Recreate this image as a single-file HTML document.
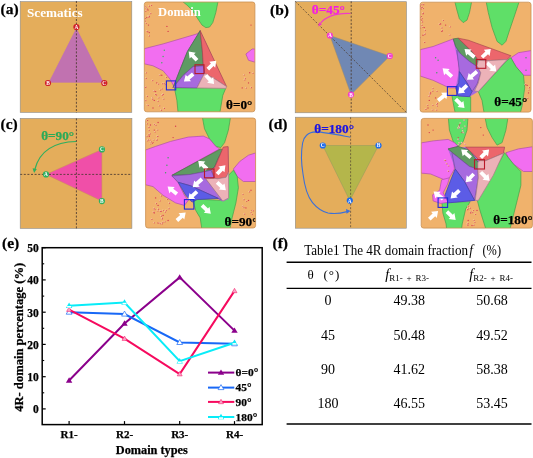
<!DOCTYPE html>
<html><head><meta charset="utf-8"><title>Figure</title>
<style>html,body{margin:0;padding:0;background:#fff;}svg{display:block;font-family:"Liberation Serif",serif;}.b{font-weight:bold}.k{stroke:#000;stroke-width:0.25px}.w{fill:#fff}</style></head><body>
<svg width="533" height="458" viewBox="0 0 533 458">
<defs><filter id="soft" x="-5%" y="-5%" width="110%" height="110%"><feGaussianBlur stdDeviation="0.4"/></filter>
<clipPath id="cpa"><rect x="144.3" y="2.0" width="110.6" height="109.8" rx="2.5"/></clipPath>
<clipPath id="cpb"><rect x="420.2" y="2.2" width="110.8" height="109.9" rx="2.5"/></clipPath>
<clipPath id="cpc"><rect x="145.6" y="118.0" width="110.0" height="110.0" rx="2.5"/></clipPath>
<clipPath id="cpd"><rect x="421.2" y="118.4" width="111.2" height="109.7" rx="2.5"/></clipPath>
</defs>
<rect width="533" height="458" fill="#fff"/>
<rect x="20.2" y="1.6" width="111.6" height="110.8" fill="#E4AD5B" stroke="#8c8c8c" stroke-width="0.6"/>
<rect x="295.2" y="1.7" width="111.3" height="111.1" fill="#E4AD5B" stroke="#8c8c8c" stroke-width="0.6"/>
<rect x="20.2" y="118.4" width="111.7" height="110.0" fill="#E4AD5B" stroke="#8c8c8c" stroke-width="0.6"/>
<rect x="295.3" y="117.2" width="111.0" height="111.0" fill="#E4AD5B" stroke="#8c8c8c" stroke-width="0.6"/>
<polygon points="76.4,27 48,83 104.3,83" fill="#C172B0" stroke="#E8B84A" stroke-width="0.6"/>
<line x1="76.4" y1="1" x2="76.4" y2="113" stroke="#4a3a30" stroke-opacity="0.85" stroke-width="1" stroke-dasharray="2,1.6" fill="none"/>
<circle cx="76.4" cy="27.0" r="3.1" fill="#D0202A"/>
<text x="76.4" y="28.9" font-size="5.4" class="b w" text-anchor="middle">A</text>
<circle cx="48.0" cy="83.0" r="3.1" fill="#D0202A"/>
<text x="48.0" y="84.9" font-size="5.4" class="b w" text-anchor="middle">B</text>
<circle cx="104.3" cy="83.0" r="3.1" fill="#D0202A"/>
<text x="104.3" y="84.9" font-size="5.4" class="b w" text-anchor="middle">C</text>
<text x="27" y="17" font-size="13.2" class="b w">Scematics</text>
<polygon points="329.9,35.5 389.8,56 351,94.6" fill="#7088B4" stroke="#9a8a6e" stroke-width="0.5"/>
<line x1="351.2" y1="1.3" x2="351.2" y2="113" stroke="#4a3a30" stroke-opacity="0.85" stroke-width="1" stroke-dasharray="2,1.6" fill="none"/>
<line x1="295.2" y1="1.3" x2="406.2" y2="112.3" stroke="#4a3a30" stroke-opacity="0.85" stroke-width="0.85" stroke-dasharray="2,1.6" fill="none"/>
<path d="M350.4,13.5 C336,13 325,17 319.5,24.5" fill="none" stroke="#F03CC8" stroke-width="1.2"/>
<polygon points="318.2,26.5 319,22.3 322,24.6" fill="#F03CC0"/>
<circle cx="329.9" cy="35.5" r="3.1" fill="#F23CD0"/>
<text x="329.9" y="37.4" font-size="5.4" class="b w" text-anchor="middle">A</text>
<circle cx="389.8" cy="56.0" r="3.1" fill="#F23CD0"/>
<text x="389.8" y="57.9" font-size="5.4" class="b w" text-anchor="middle">C</text>
<circle cx="351.0" cy="94.6" r="3.1" fill="#F23CD0"/>
<text x="351.0" y="96.5" font-size="5.4" class="b w" text-anchor="middle">B</text>
<text x="311.8" y="13.8" font-size="13.3" class="b" fill="#F41CE4" stroke="#F41CE4" stroke-width="0.25">θ=45°</text>
<polygon points="46,174.4 101.9,149.4 101.9,201.1" fill="#F04FA8" stroke="#c98a5e" stroke-width="0.5"/>
<line x1="76.4" y1="118.4" x2="76.4" y2="228.4" stroke="#4a3a30" stroke-opacity="0.85" stroke-width="1" stroke-dasharray="2,1.6" fill="none"/>
<line x1="20.2" y1="174.4" x2="131.9" y2="174.4" stroke="#4a3a30" stroke-opacity="0.85" stroke-width="1" stroke-dasharray="2,1.6" fill="none"/>
<path d="M76.2,141.5 C55,142 40,150 35,169" fill="none" stroke="#2FAE5E" stroke-width="1.2"/>
<polygon points="34.1,173 32.6,168.2 36.8,169" fill="#2FAE5E"/>
<circle cx="46.0" cy="174.4" r="3.1" fill="#2FB060"/>
<text x="46.0" y="176.3" font-size="5.4" class="b w" text-anchor="middle">A</text>
<circle cx="101.9" cy="149.4" r="3.1" fill="#2FB060"/>
<text x="101.9" y="151.3" font-size="5.4" class="b w" text-anchor="middle">C</text>
<circle cx="101.9" cy="201.1" r="3.1" fill="#2FB060"/>
<text x="101.9" y="203.0" font-size="5.4" class="b w" text-anchor="middle">B</text>
<text x="41.2" y="139.7" font-size="13.2" class="b" fill="#2BAA58" stroke="#2BAA58" stroke-width="0.25">θ=90°</text>
<polygon points="322.8,145.5 378.5,145.5 349.8,200.6" fill="#B4B64B" stroke="#8f9a5e" stroke-width="0.5"/>
<line x1="350.6" y1="117.2" x2="350.6" y2="228.2" stroke="#4a3a30" stroke-opacity="0.85" stroke-width="0.75" stroke-dasharray="2,1.6" fill="none"/>
<path d="M350.4,137.3 C340,135.3 325,132 315.7,131.9 C308,132 303.5,137 302.6,143 C301,152 301.5,165 303,174 C304.5,186 307,196 312.5,202.6 C317,208 322,211.5 328,213 C335,214.2 342,213 347,211.6" fill="none" stroke="#3C70D8" stroke-width="1.1"/>
<polygon points="350.6,211 346,208.9 346.6,213.8" fill="#3C70D8"/>
<circle cx="322.8" cy="145.5" r="3.1" fill="#1E6CEC"/>
<text x="322.8" y="147.4" font-size="5.4" class="b w" text-anchor="middle">C</text>
<circle cx="378.5" cy="145.5" r="3.1" fill="#1E6CEC"/>
<text x="378.5" y="147.4" font-size="5.4" class="b w" text-anchor="middle">B</text>
<circle cx="349.8" cy="200.6" r="3.1" fill="#1E6CEC"/>
<text x="349.8" y="202.5" font-size="5.4" class="b w" text-anchor="middle">A</text>
<text x="314.2" y="132.7" font-size="13.3" class="b" fill="#1C14E4" stroke="#1C14E4" stroke-width="0.25">θ=180°</text>
<text x="0.5" y="14.4" font-size="15.5" class="b k">(a)</text>
<text x="270" y="15" font-size="15.5" class="b k">(b)</text>
<text x="0.5" y="129.2" font-size="15.5" class="b k">(c)</text>
<text x="268.5" y="129.3" font-size="15.5" class="b k">(d)</text>
<text x="2" y="248.2" font-size="15.5" class="b k">(e)</text>
<text x="272.5" y="248.2" font-size="15.5" class="b k">(f)</text>
<g clip-path="url(#cpa)">
<rect x="143.3" y="1.0" width="112.6" height="111.8" fill="#F0B26C"/>
<g filter="url(#soft)">
<polygon points="180.7,0.0 218.3,0.0 215.8,12.6 212.8,22.6 209.5,27.1 205.8,27.6 202.0,25.1 197.0,17.6 192.0,10.0 186.9,5.0" fill="#5EDF68" stroke="#43a04a" stroke-width="0.7" stroke-linejoin="round"/>
<polygon points="174.4,87.9 225.9,87.9 222.8,95.4 219.6,114.2 178.2,114.2 176.9,100.4" fill="#5EDF68" stroke="#43a04a" stroke-width="0.7" stroke-linejoin="round"/>
<polygon points="143.0,49.0 163.1,43.9 197.0,33.9 200.2,31.4 187.4,51.5 180.4,68.8 173.6,85.9 170.1,79.1 163.1,70.8 153.0,65.8 143.0,63.5" fill="#F26EF0" stroke="#ae4fac" stroke-width="0.7" stroke-linejoin="round"/>
<polygon points="245.9,54.0 252.2,49.0 257.2,49.0 257.2,62.8 248.5,60.3" fill="#F26EF0" stroke="#ae4fac" stroke-width="0.7" stroke-linejoin="round"/>
<polygon points="200.2,30.6 187.4,51.5 180.4,68.8 173.1,87.4 226.6,86.9" fill="#A76ADF"/>
<polygon points="200.2,30.6 187.4,51.5 180.4,68.8 173.1,87.4 183.2,75.3 193.2,66.5 203.3,65.8 202.3,50.2" fill="#5E9A64" stroke="#436e48" stroke-width="0.7" stroke-linejoin="round"/>
<polygon points="200.2,30.6 226.6,86.6 214.6,78.8 204.5,73.3 203.3,65.8 202.3,50.2" fill="#EC666C" stroke="#a9494d" stroke-width="0.7" stroke-linejoin="round"/>
<polygon points="173.1,87.4 183.2,75.3 193.2,66.5 203.3,65.8 204.5,73.3 200.8,80.3 197.0,87.9" fill="#A76ADF" stroke="#784ca0" stroke-width="0.7" stroke-linejoin="round"/>
<polygon points="197.0,87.9 200.8,80.3 204.5,73.3 214.6,78.8 226.6,86.6 225.9,88.4" fill="#ECB2B8" stroke="#a98084" stroke-width="0.7" stroke-linejoin="round"/>
<circle cx="148.0" cy="10.0" r="0.7" fill="#D84050"/>
<circle cx="146.8" cy="17.6" r="0.7" fill="#D84050"/>
<circle cx="148.5" cy="25.1" r="0.7" fill="#D84050"/>
<circle cx="166.9" cy="26.4" r="0.7" fill="#D84050"/>
<circle cx="168.1" cy="31.4" r="0.7" fill="#D84050"/>
<circle cx="149.3" cy="32.6" r="0.7" fill="#D84050"/>
<circle cx="156.8" cy="82.9" r="0.7" fill="#D84050"/>
<circle cx="155.6" cy="91.6" r="0.7" fill="#D84050"/>
<circle cx="154.3" cy="100.4" r="0.7" fill="#D84050"/>
<circle cx="153.0" cy="108.0" r="0.7" fill="#D84050"/>
<circle cx="161.8" cy="75.3" r="0.7" fill="#D84050"/>
<circle cx="248.5" cy="82.9" r="0.7" fill="#D84050"/>
<circle cx="242.2" cy="87.9" r="0.7" fill="#D84050"/>
<circle cx="249.7" cy="72.8" r="0.7" fill="#D84050"/>
<circle cx="251.0" cy="25.1" r="0.7" fill="#D84050"/>
<circle cx="164.3" cy="50.2" r="0.7" fill="#40B060"/>
<circle cx="163.1" cy="56.5" r="0.7" fill="#40B060"/>
<circle cx="161.8" cy="62.8" r="0.7" fill="#40B060"/>
<circle cx="146.7" cy="8.5" r="0.7" fill="#F8D8A4"/>
<circle cx="147.2" cy="8.9" r="0.6" fill="#D63A55" fill-opacity="0.85"/>
<circle cx="148.9" cy="5.8" r="0.7" fill="#F8D8A4"/>
<circle cx="149.4" cy="6.2" r="0.6" fill="#D63A55" fill-opacity="0.85"/>
<circle cx="148.1" cy="15.8" r="0.7" fill="#F8D8A4"/>
<circle cx="148.6" cy="16.2" r="0.6" fill="#D63A55" fill-opacity="0.85"/>
<circle cx="144.9" cy="20.6" r="0.7" fill="#F8D8A4"/>
<circle cx="145.4" cy="21.0" r="0.6" fill="#D63A55" fill-opacity="0.85"/>
<circle cx="144.8" cy="18.1" r="0.7" fill="#F8D8A4"/>
<circle cx="145.3" cy="18.5" r="0.6" fill="#D63A55" fill-opacity="0.85"/>
<circle cx="145.0" cy="6.4" r="0.7" fill="#F8D8A4"/>
<circle cx="145.5" cy="6.8" r="0.6" fill="#D63A55" fill-opacity="0.85"/>
<circle cx="147.4" cy="31.4" r="0.7" fill="#F8D8A4"/>
<circle cx="147.9" cy="31.8" r="0.6" fill="#D63A55" fill-opacity="0.85"/>
<circle cx="145.3" cy="10.9" r="0.7" fill="#F8D8A4"/>
<circle cx="145.8" cy="11.3" r="0.6" fill="#D63A55" fill-opacity="0.85"/>
<circle cx="148.8" cy="35.5" r="0.7" fill="#F8D8A4"/>
<circle cx="149.3" cy="35.9" r="0.6" fill="#D63A55" fill-opacity="0.85"/>
<circle cx="148.4" cy="16.8" r="0.7" fill="#F8D8A4"/>
<circle cx="148.9" cy="17.2" r="0.6" fill="#D63A55" fill-opacity="0.85"/>
<circle cx="151.1" cy="4.9" r="0.7" fill="#F8D8A4"/>
<circle cx="151.6" cy="5.3" r="0.6" fill="#D63A55" fill-opacity="0.85"/>
<circle cx="150.3" cy="13.2" r="0.7" fill="#F8D8A4"/>
<circle cx="150.8" cy="13.6" r="0.6" fill="#D63A55" fill-opacity="0.85"/>
<circle cx="145.5" cy="7.4" r="0.7" fill="#F8D8A4"/>
<circle cx="146.0" cy="7.8" r="0.6" fill="#D63A55" fill-opacity="0.85"/>
<circle cx="146.6" cy="31.0" r="0.7" fill="#F8D8A4"/>
<circle cx="147.1" cy="31.4" r="0.6" fill="#D63A55" fill-opacity="0.85"/>
<circle cx="145.7" cy="23.1" r="0.7" fill="#F8D8A4"/>
<circle cx="146.2" cy="23.5" r="0.6" fill="#D63A55" fill-opacity="0.85"/>
<circle cx="148.8" cy="16.0" r="0.7" fill="#F8D8A4"/>
<circle cx="149.3" cy="16.4" r="0.6" fill="#D63A55" fill-opacity="0.85"/>
<circle cx="159.5" cy="74.8" r="0.7" fill="#F8D8A4"/>
<circle cx="160.0" cy="75.2" r="0.6" fill="#D63A55" fill-opacity="0.85"/>
<circle cx="152.2" cy="80.2" r="0.7" fill="#F8D8A4"/>
<circle cx="152.7" cy="80.6" r="0.6" fill="#D63A55" fill-opacity="0.85"/>
<circle cx="161.5" cy="88.5" r="0.7" fill="#F8D8A4"/>
<circle cx="162.0" cy="88.9" r="0.6" fill="#D63A55" fill-opacity="0.85"/>
<circle cx="156.0" cy="94.5" r="0.7" fill="#F8D8A4"/>
<circle cx="156.5" cy="94.9" r="0.6" fill="#D63A55" fill-opacity="0.85"/>
<circle cx="158.1" cy="83.7" r="0.7" fill="#F8D8A4"/>
<circle cx="158.6" cy="84.1" r="0.6" fill="#D63A55" fill-opacity="0.85"/>
<circle cx="163.3" cy="98.7" r="0.7" fill="#F8D8A4"/>
<circle cx="163.8" cy="99.1" r="0.6" fill="#D63A55" fill-opacity="0.85"/>
<circle cx="155.0" cy="94.1" r="0.7" fill="#F8D8A4"/>
<circle cx="155.5" cy="94.5" r="0.6" fill="#D63A55" fill-opacity="0.85"/>
<circle cx="159.2" cy="105.4" r="0.7" fill="#F8D8A4"/>
<circle cx="159.7" cy="105.8" r="0.6" fill="#D63A55" fill-opacity="0.85"/>
<circle cx="162.3" cy="83.3" r="0.7" fill="#F8D8A4"/>
<circle cx="162.8" cy="83.7" r="0.6" fill="#D63A55" fill-opacity="0.85"/>
<circle cx="166.1" cy="76.9" r="0.7" fill="#F8D8A4"/>
<circle cx="166.6" cy="77.3" r="0.6" fill="#D63A55" fill-opacity="0.85"/>
<circle cx="157.6" cy="100.9" r="0.7" fill="#F8D8A4"/>
<circle cx="158.1" cy="101.3" r="0.6" fill="#D63A55" fill-opacity="0.85"/>
<circle cx="153.6" cy="90.8" r="0.7" fill="#F8D8A4"/>
<circle cx="154.1" cy="91.2" r="0.6" fill="#D63A55" fill-opacity="0.85"/>
<circle cx="151.9" cy="97.6" r="0.7" fill="#F8D8A4"/>
<circle cx="152.4" cy="98.0" r="0.6" fill="#D63A55" fill-opacity="0.85"/>
<circle cx="162.8" cy="94.0" r="0.7" fill="#F8D8A4"/>
<circle cx="163.3" cy="94.4" r="0.6" fill="#D63A55" fill-opacity="0.85"/>
<circle cx="164.5" cy="84.2" r="0.7" fill="#F8D8A4"/>
<circle cx="165.0" cy="84.6" r="0.6" fill="#D63A55" fill-opacity="0.85"/>
<circle cx="161.8" cy="94.8" r="0.7" fill="#F8D8A4"/>
<circle cx="162.3" cy="95.2" r="0.6" fill="#D63A55" fill-opacity="0.85"/>
<circle cx="160.0" cy="89.6" r="0.7" fill="#F8D8A4"/>
<circle cx="160.5" cy="90.0" r="0.6" fill="#D63A55" fill-opacity="0.85"/>
<circle cx="163.9" cy="108.0" r="0.7" fill="#F8D8A4"/>
<circle cx="164.4" cy="108.4" r="0.6" fill="#D63A55" fill-opacity="0.85"/>
<circle cx="158.4" cy="97.4" r="0.7" fill="#F8D8A4"/>
<circle cx="158.9" cy="97.8" r="0.6" fill="#D63A55" fill-opacity="0.85"/>
<circle cx="152.2" cy="98.8" r="0.7" fill="#F8D8A4"/>
<circle cx="152.7" cy="99.2" r="0.6" fill="#D63A55" fill-opacity="0.85"/>
<circle cx="161.0" cy="109.8" r="0.7" fill="#F8D8A4"/>
<circle cx="161.5" cy="110.2" r="0.6" fill="#D63A55" fill-opacity="0.85"/>
<circle cx="163.7" cy="83.1" r="0.7" fill="#F8D8A4"/>
<circle cx="164.2" cy="83.5" r="0.6" fill="#D63A55" fill-opacity="0.85"/>
<circle cx="146.9" cy="95.9" r="0.7" fill="#F8D8A4"/>
<circle cx="147.4" cy="96.3" r="0.6" fill="#D63A55" fill-opacity="0.85"/>
<circle cx="145.1" cy="87.1" r="0.7" fill="#F8D8A4"/>
<circle cx="145.6" cy="87.5" r="0.6" fill="#D63A55" fill-opacity="0.85"/>
<circle cx="145.9" cy="72.4" r="0.7" fill="#F8D8A4"/>
<circle cx="146.4" cy="72.8" r="0.6" fill="#D63A55" fill-opacity="0.85"/>
<circle cx="145.3" cy="100.2" r="0.7" fill="#F8D8A4"/>
<circle cx="145.8" cy="100.6" r="0.6" fill="#D63A55" fill-opacity="0.85"/>
<circle cx="145.7" cy="78.0" r="0.7" fill="#F8D8A4"/>
<circle cx="146.2" cy="78.4" r="0.6" fill="#D63A55" fill-opacity="0.85"/>
<circle cx="147.0" cy="104.6" r="0.7" fill="#F8D8A4"/>
<circle cx="147.5" cy="105.0" r="0.6" fill="#D63A55" fill-opacity="0.85"/>
<circle cx="145.4" cy="86.6" r="0.7" fill="#F8D8A4"/>
<circle cx="145.9" cy="87.0" r="0.6" fill="#D63A55" fill-opacity="0.85"/>
<circle cx="147.8" cy="105.1" r="0.7" fill="#F8D8A4"/>
<circle cx="148.3" cy="105.5" r="0.6" fill="#D63A55" fill-opacity="0.85"/>
<circle cx="250.9" cy="87.3" r="0.7" fill="#F8D8A4"/>
<circle cx="251.4" cy="87.7" r="0.6" fill="#D63A55" fill-opacity="0.85"/>
<circle cx="244.8" cy="78.2" r="0.7" fill="#F8D8A4"/>
<circle cx="245.3" cy="78.6" r="0.6" fill="#D63A55" fill-opacity="0.85"/>
<circle cx="245.7" cy="87.7" r="0.7" fill="#F8D8A4"/>
<circle cx="246.2" cy="88.1" r="0.6" fill="#D63A55" fill-opacity="0.85"/>
<circle cx="252.5" cy="72.9" r="0.7" fill="#F8D8A4"/>
<circle cx="253.0" cy="73.3" r="0.6" fill="#D63A55" fill-opacity="0.85"/>
<circle cx="243.7" cy="74.6" r="0.7" fill="#F8D8A4"/>
<circle cx="244.2" cy="75.0" r="0.6" fill="#D63A55" fill-opacity="0.85"/>
<circle cx="244.3" cy="79.6" r="0.7" fill="#F8D8A4"/>
<circle cx="244.8" cy="80.0" r="0.6" fill="#D63A55" fill-opacity="0.85"/>
</g>
<polygon points="198.4,59.0 194.0,54.3 195.7,52.7 188.7,51.5 189.6,58.5 191.2,56.9 195.6,61.6" fill="#fff"/>
<polygon points="209.1,70.4 213.6,66.1 215.2,67.7 216.3,60.8 209.3,61.7 210.9,63.4 206.5,67.7" fill="#fff"/>
<polygon points="192.0,72.6 187.2,76.5 185.7,74.8 183.9,81.6 191.0,81.3 189.6,79.5 194.4,75.5" fill="#fff"/>
<polygon points="204.4,76.6 208.8,81.3 207.1,82.8 214.1,84.1 213.2,77.1 211.5,78.7 207.2,74.0" fill="#fff"/>
<rect x="195.0" y="64.8" width="9.0" height="8.8" fill="none" stroke="#B81828" stroke-width="1.1"/>
<rect x="166.4" y="80.9" width="9.3" height="9.0" fill="none" stroke="#2028D8" stroke-width="1.1"/>
<text x="158.1" y="15.6" font-size="12.6" class="b w">Domain</text>
<text x="226.1" y="108.5" font-size="13.2" class="b k">θ=0°</text>
</g>
<rect x="144.3" y="2.0" width="110.6" height="109.8" rx="2.5" fill="none" stroke="#c98f50" stroke-width="0.8"/>
<g clip-path="url(#cpb)">
<rect x="419.2" y="1.2" width="112.8" height="111.9" fill="#F0B26C"/>
<g filter="url(#soft)">
<polygon points="454.4,0.0 472.0,0.0 469.5,12.6 467.0,20.1 463.2,22.6 459.4,18.8 456.9,10.0" fill="#5EDF68" stroke="#43a04a" stroke-width="0.7" stroke-linejoin="round"/>
<polygon points="485.8,0.0 519.7,0.0 514.7,15.1 509.6,30.1 505.9,41.4 502.1,45.2 497.1,41.4 492.1,27.6 488.3,12.6" fill="#5EDF68" stroke="#43a04a" stroke-width="0.7" stroke-linejoin="round"/>
<polygon points="418.0,50.2 433.1,46.5 453.2,38.9 456.9,50.2 459.4,67.8 458.2,82.9 455.7,87.9 449.4,87.9 433.1,80.3 418.0,75.3" fill="#F26EF0" stroke="#ae4fac" stroke-width="0.7" stroke-linejoin="round"/>
<polygon points="510.9,57.8 518.4,52.7 533.5,50.2 533.5,75.3 523.5,75.3 515.9,66.5" fill="#F26EF0" stroke="#ae4fac" stroke-width="0.7" stroke-linejoin="round"/>
<polygon points="507.1,60.3 510.9,57.8 515.9,66.5 523.5,75.3 524.7,87.9 522.2,105.5 519.7,115.5 484.5,115.5 482.0,100.4 478.3,91.6" fill="#5EDF68" stroke="#43a04a" stroke-width="0.7" stroke-linejoin="round"/>
<polygon points="451.9,95.4 470.7,96.7 470.7,115.5 455.7,115.5 453.2,102.9" fill="#5EDF68" stroke="#43a04a" stroke-width="0.7" stroke-linejoin="round"/>
<polygon points="453.2,38.9 510.9,55.7 478.3,91.6 469.5,96.7 458.2,95.9 455.7,87.9 459.4,67.8" fill="#A76ADF"/>
<polygon points="453.2,38.9 458.2,38.2 472.0,51.5 478.3,60.3 477.0,66.5 469.5,61.5 460.7,54.0 455.7,46.5" fill="#5E9A64" stroke="#436e48" stroke-width="0.7" stroke-linejoin="round"/>
<polygon points="458.2,38.2 468.2,40.2 510.9,55.7 507.1,59.5 485.8,60.8 478.3,60.3 472.0,51.5" fill="#EC666C" stroke="#a9494d" stroke-width="0.7" stroke-linejoin="round"/>
<polygon points="456.9,50.2 460.7,54.0 469.5,61.5 477.0,66.5 480.8,72.8 477.0,84.1 472.0,91.6 467.0,82.9 459.4,71.6" fill="#A76ADF" stroke="#784ca0" stroke-width="0.7" stroke-linejoin="round"/>
<polygon points="477.0,65.8 478.3,60.3 485.8,60.8 507.1,59.5 478.3,91.6 474.5,90.9 478.3,82.9 480.8,72.8" fill="#ECB2B8" stroke="#a98084" stroke-width="0.7" stroke-linejoin="round"/>
<polygon points="459.4,71.6 467.0,82.9 472.0,91.6 469.5,96.7 458.2,95.9 455.7,87.9 458.7,82.9" fill="#5C5CE6" stroke="#4242a5" stroke-width="0.7" stroke-linejoin="round"/>
<circle cx="421.8" cy="7.5" r="0.7" fill="#D84050"/>
<circle cx="423.0" cy="13.8" r="0.7" fill="#D84050"/>
<circle cx="421.8" cy="20.1" r="0.7" fill="#D84050"/>
<circle cx="424.3" cy="27.6" r="0.7" fill="#D84050"/>
<circle cx="423.0" cy="35.2" r="0.7" fill="#D84050"/>
<circle cx="440.6" cy="23.9" r="0.7" fill="#D84050"/>
<circle cx="445.6" cy="25.1" r="0.7" fill="#D84050"/>
<circle cx="441.9" cy="31.4" r="0.7" fill="#D84050"/>
<circle cx="430.6" cy="92.9" r="0.7" fill="#D84050"/>
<circle cx="429.3" cy="100.4" r="0.7" fill="#D84050"/>
<circle cx="428.0" cy="108.0" r="0.7" fill="#D84050"/>
<circle cx="435.6" cy="97.9" r="0.7" fill="#D84050"/>
<circle cx="527.2" cy="85.4" r="0.7" fill="#D84050"/>
<circle cx="528.5" cy="92.9" r="0.7" fill="#D84050"/>
<circle cx="435.6" cy="57.8" r="0.7" fill="#40A060"/>
<circle cx="438.1" cy="60.3" r="0.7" fill="#40A060"/>
<circle cx="436.8" cy="72.8" r="0.7" fill="#40A060"/>
<circle cx="526.0" cy="57.8" r="0.7" fill="#40A060"/>
<circle cx="526.0" cy="70.3" r="0.7" fill="#40A060"/>
<circle cx="422.8" cy="12.7" r="0.7" fill="#F8D8A4"/>
<circle cx="423.3" cy="13.1" r="0.6" fill="#D63A55" fill-opacity="0.85"/>
<circle cx="419.5" cy="18.9" r="0.7" fill="#F8D8A4"/>
<circle cx="420.0" cy="19.3" r="0.6" fill="#D63A55" fill-opacity="0.85"/>
<circle cx="421.5" cy="24.9" r="0.7" fill="#F8D8A4"/>
<circle cx="422.0" cy="25.3" r="0.6" fill="#D63A55" fill-opacity="0.85"/>
<circle cx="424.8" cy="29.9" r="0.7" fill="#F8D8A4"/>
<circle cx="425.3" cy="30.3" r="0.6" fill="#D63A55" fill-opacity="0.85"/>
<circle cx="422.4" cy="26.9" r="0.7" fill="#F8D8A4"/>
<circle cx="422.9" cy="27.3" r="0.6" fill="#D63A55" fill-opacity="0.85"/>
<circle cx="423.2" cy="4.3" r="0.7" fill="#F8D8A4"/>
<circle cx="423.7" cy="4.7" r="0.6" fill="#D63A55" fill-opacity="0.85"/>
<circle cx="424.5" cy="33.4" r="0.7" fill="#F8D8A4"/>
<circle cx="425.0" cy="33.8" r="0.6" fill="#D63A55" fill-opacity="0.85"/>
<circle cx="424.3" cy="34.2" r="0.7" fill="#F8D8A4"/>
<circle cx="424.8" cy="34.6" r="0.6" fill="#D63A55" fill-opacity="0.85"/>
<circle cx="421.7" cy="18.1" r="0.7" fill="#F8D8A4"/>
<circle cx="422.2" cy="18.5" r="0.6" fill="#D63A55" fill-opacity="0.85"/>
<circle cx="420.1" cy="27.6" r="0.7" fill="#F8D8A4"/>
<circle cx="420.6" cy="28.0" r="0.6" fill="#D63A55" fill-opacity="0.85"/>
<circle cx="419.9" cy="4.8" r="0.7" fill="#F8D8A4"/>
<circle cx="420.4" cy="5.2" r="0.6" fill="#D63A55" fill-opacity="0.85"/>
<circle cx="420.7" cy="8.6" r="0.7" fill="#F8D8A4"/>
<circle cx="421.2" cy="9.0" r="0.6" fill="#D63A55" fill-opacity="0.85"/>
<circle cx="421.4" cy="4.2" r="0.7" fill="#F8D8A4"/>
<circle cx="421.9" cy="4.6" r="0.6" fill="#D63A55" fill-opacity="0.85"/>
<circle cx="419.5" cy="8.2" r="0.7" fill="#F8D8A4"/>
<circle cx="420.0" cy="8.6" r="0.6" fill="#D63A55" fill-opacity="0.85"/>
<circle cx="420.1" cy="16.7" r="0.7" fill="#F8D8A4"/>
<circle cx="420.6" cy="17.1" r="0.6" fill="#D63A55" fill-opacity="0.85"/>
<circle cx="419.6" cy="37.2" r="0.7" fill="#F8D8A4"/>
<circle cx="420.1" cy="37.6" r="0.6" fill="#D63A55" fill-opacity="0.85"/>
<circle cx="422.9" cy="8.1" r="0.7" fill="#F8D8A4"/>
<circle cx="423.4" cy="8.5" r="0.6" fill="#D63A55" fill-opacity="0.85"/>
<circle cx="420.9" cy="16.1" r="0.7" fill="#F8D8A4"/>
<circle cx="421.4" cy="16.5" r="0.6" fill="#D63A55" fill-opacity="0.85"/>
<circle cx="421.5" cy="7.0" r="0.7" fill="#F8D8A4"/>
<circle cx="422.0" cy="7.4" r="0.6" fill="#D63A55" fill-opacity="0.85"/>
<circle cx="424.2" cy="42.0" r="0.7" fill="#F8D8A4"/>
<circle cx="424.7" cy="42.4" r="0.6" fill="#D63A55" fill-opacity="0.85"/>
<circle cx="422.1" cy="21.5" r="0.7" fill="#F8D8A4"/>
<circle cx="422.6" cy="21.9" r="0.6" fill="#D63A55" fill-opacity="0.85"/>
<circle cx="420.0" cy="6.2" r="0.7" fill="#F8D8A4"/>
<circle cx="420.5" cy="6.6" r="0.6" fill="#D63A55" fill-opacity="0.85"/>
<circle cx="429.8" cy="93.5" r="0.7" fill="#F8D8A4"/>
<circle cx="430.3" cy="93.9" r="0.6" fill="#D63A55" fill-opacity="0.85"/>
<circle cx="436.5" cy="91.1" r="0.7" fill="#F8D8A4"/>
<circle cx="437.0" cy="91.5" r="0.6" fill="#D63A55" fill-opacity="0.85"/>
<circle cx="425.4" cy="109.0" r="0.7" fill="#F8D8A4"/>
<circle cx="425.9" cy="109.4" r="0.6" fill="#D63A55" fill-opacity="0.85"/>
<circle cx="432.3" cy="90.8" r="0.7" fill="#F8D8A4"/>
<circle cx="432.8" cy="91.2" r="0.6" fill="#D63A55" fill-opacity="0.85"/>
<circle cx="432.5" cy="88.1" r="0.7" fill="#F8D8A4"/>
<circle cx="433.0" cy="88.5" r="0.6" fill="#D63A55" fill-opacity="0.85"/>
<circle cx="432.3" cy="109.6" r="0.7" fill="#F8D8A4"/>
<circle cx="432.8" cy="110.0" r="0.6" fill="#D63A55" fill-opacity="0.85"/>
<circle cx="437.0" cy="103.2" r="0.7" fill="#F8D8A4"/>
<circle cx="437.5" cy="103.6" r="0.6" fill="#D63A55" fill-opacity="0.85"/>
<circle cx="428.6" cy="95.8" r="0.7" fill="#F8D8A4"/>
<circle cx="429.1" cy="96.2" r="0.6" fill="#D63A55" fill-opacity="0.85"/>
<circle cx="427.3" cy="104.9" r="0.7" fill="#F8D8A4"/>
<circle cx="427.8" cy="105.3" r="0.6" fill="#D63A55" fill-opacity="0.85"/>
<circle cx="432.4" cy="105.1" r="0.7" fill="#F8D8A4"/>
<circle cx="432.9" cy="105.5" r="0.6" fill="#D63A55" fill-opacity="0.85"/>
<circle cx="429.6" cy="92.5" r="0.7" fill="#F8D8A4"/>
<circle cx="430.1" cy="92.9" r="0.6" fill="#D63A55" fill-opacity="0.85"/>
<circle cx="436.2" cy="109.7" r="0.7" fill="#F8D8A4"/>
<circle cx="436.7" cy="110.1" r="0.6" fill="#D63A55" fill-opacity="0.85"/>
<circle cx="436.8" cy="105.7" r="0.7" fill="#F8D8A4"/>
<circle cx="437.3" cy="106.1" r="0.6" fill="#D63A55" fill-opacity="0.85"/>
<circle cx="436.3" cy="104.2" r="0.7" fill="#F8D8A4"/>
<circle cx="436.8" cy="104.6" r="0.6" fill="#D63A55" fill-opacity="0.85"/>
<circle cx="441.4" cy="27.5" r="0.7" fill="#F8D8A4"/>
<circle cx="441.9" cy="27.9" r="0.6" fill="#D63A55" fill-opacity="0.85"/>
<circle cx="442.9" cy="20.1" r="0.7" fill="#F8D8A4"/>
<circle cx="443.4" cy="20.5" r="0.6" fill="#D63A55" fill-opacity="0.85"/>
<circle cx="439.2" cy="23.9" r="0.7" fill="#F8D8A4"/>
<circle cx="439.7" cy="24.3" r="0.6" fill="#D63A55" fill-opacity="0.85"/>
<circle cx="441.8" cy="30.1" r="0.7" fill="#F8D8A4"/>
<circle cx="442.3" cy="30.5" r="0.6" fill="#D63A55" fill-opacity="0.85"/>
<circle cx="449.7" cy="26.4" r="0.7" fill="#F8D8A4"/>
<circle cx="450.2" cy="26.8" r="0.6" fill="#D63A55" fill-opacity="0.85"/>
<circle cx="449.4" cy="34.6" r="0.7" fill="#F8D8A4"/>
<circle cx="449.9" cy="35.0" r="0.6" fill="#D63A55" fill-opacity="0.85"/>
<circle cx="529.0" cy="87.3" r="0.7" fill="#F8D8A4"/>
<circle cx="529.5" cy="87.7" r="0.6" fill="#D63A55" fill-opacity="0.85"/>
<circle cx="525.3" cy="84.5" r="0.7" fill="#F8D8A4"/>
<circle cx="525.8" cy="84.9" r="0.6" fill="#D63A55" fill-opacity="0.85"/>
<circle cx="525.2" cy="84.1" r="0.7" fill="#F8D8A4"/>
<circle cx="525.7" cy="84.5" r="0.6" fill="#D63A55" fill-opacity="0.85"/>
<circle cx="527.3" cy="98.0" r="0.7" fill="#F8D8A4"/>
<circle cx="527.8" cy="98.4" r="0.6" fill="#D63A55" fill-opacity="0.85"/>
<circle cx="528.4" cy="89.6" r="0.7" fill="#F8D8A4"/>
<circle cx="528.9" cy="90.0" r="0.6" fill="#D63A55" fill-opacity="0.85"/>
</g>
<polygon points="475.7,55.8 470.1,51.1 471.5,49.4 464.5,49.0 466.2,55.8 467.6,54.1 473.3,58.7" fill="#fff"/>
<polygon points="483.3,58.6 488.0,54.3 489.6,55.9 490.8,49.0 483.8,49.8 485.4,51.5 480.7,55.9" fill="#fff"/>
<polygon points="453.2,75.2 448.1,70.7 449.7,69.0 442.6,68.3 444.1,75.2 445.6,73.5 450.6,78.0" fill="#fff"/>
<polygon points="475.8,70.1 470.2,74.8 468.7,73.0 467.0,79.8 474.0,79.5 472.6,77.7 478.2,73.0" fill="#fff"/>
<polygon points="485.7,64.2 490.9,69.0 489.3,70.7 496.3,71.6 495.1,64.6 493.5,66.3 488.4,61.4" fill="#fff"/>
<polygon points="465.7,84.0 461.1,88.2 459.5,86.5 458.2,93.4 465.2,92.7 463.7,91.0 468.2,86.8" fill="#fff"/>
<polygon points="439.3,101.9 444.9,97.4 446.3,99.2 448.1,92.4 441.1,92.7 442.5,94.5 436.9,99.0" fill="#fff"/>
<polygon points="454.3,100.5 459.1,105.3 457.5,106.9 464.5,108.0 463.4,101.0 461.8,102.6 457.0,97.8" fill="#fff"/>
<rect x="476.3" y="59.5" width="9.5" height="8.8" fill="none" stroke="#B81828" stroke-width="1.1"/>
<rect x="447.4" y="86.6" width="9.5" height="8.8" fill="none" stroke="#2028D8" stroke-width="1.1"/>
<text x="494.3" y="105.7" font-size="13.2" class="b k">θ=45°</text>
</g>
<rect x="420.2" y="2.2" width="110.8" height="109.9" rx="2.5" fill="none" stroke="#c98f50" stroke-width="0.8"/>
<g clip-path="url(#cpc)">
<rect x="144.6" y="117.0" width="112.0" height="112.0" fill="#F0B26C"/>
<g filter="url(#soft)">
<polygon points="202.0,115.0 230.9,115.0 228.4,130.1 224.6,142.6 220.8,147.6 215.8,146.4 209.5,138.9 204.5,128.8" fill="#5EDF68" stroke="#43a04a" stroke-width="0.7" stroke-linejoin="round"/>
<polygon points="143.0,150.9 155.6,146.4 170.6,141.4 188.2,137.1 203.3,136.1 209.5,138.9 215.8,146.4 219.6,148.9 171.9,175.3 178.2,182.8 184.4,195.3 188.2,200.4 184.4,205.4 175.6,202.9 163.1,195.3 153.0,186.6 143.0,184.1" fill="#F26EF0" stroke="#ae4fac" stroke-width="0.7" stroke-linejoin="round"/>
<polygon points="233.4,169.0 239.7,161.5 248.5,155.2 258.0,152.2 258.0,181.5 243.4,181.5 237.2,176.5" fill="#F26EF0" stroke="#ae4fac" stroke-width="0.7" stroke-linejoin="round"/>
<polygon points="228.4,175.3 233.4,170.2 237.2,176.5 238.4,187.8 235.9,202.9 232.1,217.9 229.6,230.5 202.0,230.5 200.2,217.9 195.7,210.4 193.2,201.6 197.0,199.1 220.8,200.4 227.1,199.1" fill="#5EDF68" stroke="#43a04a" stroke-width="0.7" stroke-linejoin="round"/>
<polygon points="171.9,175.8 228.4,147.1 228.4,199.1 222.8,201.6" fill="#A76ADF"/>
<polygon points="171.9,175.3 220.8,148.9 222.8,149.9 218.1,158.4 214.8,166.2 211.0,170.2 204.5,171.7 190.0,174.5" fill="#5E9A64" stroke="#436e48" stroke-width="0.7" stroke-linejoin="round"/>
<polygon points="223.3,147.1 228.1,146.6 228.6,172.2 226.1,177.3 217.6,178.8 214.3,178.0 212.1,170.7 214.8,167.2 218.1,159.7 221.3,151.9" fill="#EC666C" stroke="#a9494d" stroke-width="0.7" stroke-linejoin="round"/>
<polygon points="171.9,176.0 190.0,174.5 204.5,171.7 211.0,170.2 214.3,178.0 205.8,178.8 222.8,200.4 218.3,198.4 190.7,185.8 178.2,182.3" fill="#A76ADF" stroke="#784ca0" stroke-width="0.7" stroke-linejoin="round"/>
<polygon points="205.8,178.8 214.3,178.3 217.6,178.8 226.1,177.3 228.6,172.2 228.6,197.9 222.8,201.1" fill="#ECB2B8" stroke="#a98084" stroke-width="0.7" stroke-linejoin="round"/>
<polygon points="178.2,182.3 190.7,185.8 218.3,198.4 197.0,199.6 192.0,202.1 185.7,195.3" fill="#5C5CE6" stroke="#4242a5" stroke-width="0.7" stroke-linejoin="round"/>
<circle cx="150.5" cy="125.0" r="0.7" fill="#D84050"/>
<circle cx="154.3" cy="130.1" r="0.7" fill="#D84050"/>
<circle cx="149.3" cy="136.3" r="0.7" fill="#D84050"/>
<circle cx="158.1" cy="122.5" r="0.7" fill="#D84050"/>
<circle cx="153.0" cy="142.6" r="0.7" fill="#D84050"/>
<circle cx="175.6" cy="126.3" r="0.7" fill="#D84050"/>
<circle cx="173.1" cy="137.6" r="0.7" fill="#D84050"/>
<circle cx="155.6" cy="197.9" r="0.7" fill="#D84050"/>
<circle cx="158.1" cy="205.4" r="0.7" fill="#D84050"/>
<circle cx="154.3" cy="212.9" r="0.7" fill="#D84050"/>
<circle cx="163.1" cy="215.4" r="0.7" fill="#D84050"/>
<circle cx="158.1" cy="223.0" r="0.7" fill="#D84050"/>
<circle cx="168.1" cy="220.5" r="0.7" fill="#D84050"/>
<circle cx="251.0" cy="190.3" r="0.7" fill="#D84050"/>
<circle cx="248.5" cy="200.4" r="0.7" fill="#D84050"/>
<circle cx="252.2" cy="210.4" r="0.7" fill="#D84050"/>
<circle cx="245.9" cy="207.9" r="0.7" fill="#D84050"/>
<circle cx="168.1" cy="157.7" r="0.7" fill="#40A060"/>
<circle cx="166.9" cy="165.2" r="0.7" fill="#40A060"/>
<circle cx="165.6" cy="172.8" r="0.7" fill="#40A060"/>
<circle cx="153.4" cy="139.7" r="0.7" fill="#F8D8A4"/>
<circle cx="153.9" cy="140.1" r="0.6" fill="#D63A55" fill-opacity="0.85"/>
<circle cx="146.5" cy="136.2" r="0.7" fill="#F8D8A4"/>
<circle cx="147.0" cy="136.6" r="0.6" fill="#D63A55" fill-opacity="0.85"/>
<circle cx="156.5" cy="139.3" r="0.7" fill="#F8D8A4"/>
<circle cx="157.0" cy="139.7" r="0.6" fill="#D63A55" fill-opacity="0.85"/>
<circle cx="154.6" cy="131.6" r="0.7" fill="#F8D8A4"/>
<circle cx="155.1" cy="132.0" r="0.6" fill="#D63A55" fill-opacity="0.85"/>
<circle cx="147.7" cy="139.4" r="0.7" fill="#F8D8A4"/>
<circle cx="148.2" cy="139.8" r="0.6" fill="#D63A55" fill-opacity="0.85"/>
<circle cx="149.5" cy="139.7" r="0.7" fill="#F8D8A4"/>
<circle cx="150.0" cy="140.1" r="0.6" fill="#D63A55" fill-opacity="0.85"/>
<circle cx="157.2" cy="129.6" r="0.7" fill="#F8D8A4"/>
<circle cx="157.7" cy="130.0" r="0.6" fill="#D63A55" fill-opacity="0.85"/>
<circle cx="150.4" cy="143.4" r="0.7" fill="#F8D8A4"/>
<circle cx="150.9" cy="143.8" r="0.6" fill="#D63A55" fill-opacity="0.85"/>
<circle cx="154.2" cy="123.9" r="0.7" fill="#F8D8A4"/>
<circle cx="154.7" cy="124.3" r="0.6" fill="#D63A55" fill-opacity="0.85"/>
<circle cx="147.0" cy="123.4" r="0.7" fill="#F8D8A4"/>
<circle cx="147.5" cy="123.8" r="0.6" fill="#D63A55" fill-opacity="0.85"/>
<circle cx="156.4" cy="139.9" r="0.7" fill="#F8D8A4"/>
<circle cx="156.9" cy="140.3" r="0.6" fill="#D63A55" fill-opacity="0.85"/>
<circle cx="147.3" cy="140.4" r="0.7" fill="#F8D8A4"/>
<circle cx="147.8" cy="140.8" r="0.6" fill="#D63A55" fill-opacity="0.85"/>
<circle cx="157.3" cy="136.1" r="0.7" fill="#F8D8A4"/>
<circle cx="157.8" cy="136.5" r="0.6" fill="#D63A55" fill-opacity="0.85"/>
<circle cx="149.7" cy="133.4" r="0.7" fill="#F8D8A4"/>
<circle cx="150.2" cy="133.8" r="0.6" fill="#D63A55" fill-opacity="0.85"/>
<circle cx="147.1" cy="120.0" r="0.7" fill="#F8D8A4"/>
<circle cx="147.6" cy="120.4" r="0.6" fill="#D63A55" fill-opacity="0.85"/>
<circle cx="157.2" cy="135.9" r="0.7" fill="#F8D8A4"/>
<circle cx="157.7" cy="136.3" r="0.6" fill="#D63A55" fill-opacity="0.85"/>
<circle cx="151.9" cy="143.1" r="0.7" fill="#F8D8A4"/>
<circle cx="152.4" cy="143.5" r="0.6" fill="#D63A55" fill-opacity="0.85"/>
<circle cx="150.7" cy="141.5" r="0.7" fill="#F8D8A4"/>
<circle cx="151.2" cy="141.9" r="0.6" fill="#D63A55" fill-opacity="0.85"/>
<circle cx="155.5" cy="124.9" r="0.7" fill="#F8D8A4"/>
<circle cx="156.0" cy="125.3" r="0.6" fill="#D63A55" fill-opacity="0.85"/>
<circle cx="148.5" cy="127.0" r="0.7" fill="#F8D8A4"/>
<circle cx="149.0" cy="127.4" r="0.6" fill="#D63A55" fill-opacity="0.85"/>
<circle cx="148.4" cy="134.3" r="0.7" fill="#F8D8A4"/>
<circle cx="148.9" cy="134.7" r="0.6" fill="#D63A55" fill-opacity="0.85"/>
<circle cx="148.6" cy="130.1" r="0.7" fill="#F8D8A4"/>
<circle cx="149.1" cy="130.5" r="0.6" fill="#D63A55" fill-opacity="0.85"/>
<circle cx="153.8" cy="222.4" r="0.7" fill="#F8D8A4"/>
<circle cx="154.3" cy="222.8" r="0.6" fill="#D63A55" fill-opacity="0.85"/>
<circle cx="158.0" cy="208.8" r="0.7" fill="#F8D8A4"/>
<circle cx="158.5" cy="209.2" r="0.6" fill="#D63A55" fill-opacity="0.85"/>
<circle cx="162.3" cy="222.2" r="0.7" fill="#F8D8A4"/>
<circle cx="162.8" cy="222.6" r="0.6" fill="#D63A55" fill-opacity="0.85"/>
<circle cx="159.2" cy="222.6" r="0.7" fill="#F8D8A4"/>
<circle cx="159.7" cy="223.0" r="0.6" fill="#D63A55" fill-opacity="0.85"/>
<circle cx="160.7" cy="211.0" r="0.7" fill="#F8D8A4"/>
<circle cx="161.2" cy="211.4" r="0.6" fill="#D63A55" fill-opacity="0.85"/>
<circle cx="161.1" cy="195.5" r="0.7" fill="#F8D8A4"/>
<circle cx="161.6" cy="195.9" r="0.6" fill="#D63A55" fill-opacity="0.85"/>
<circle cx="159.6" cy="200.5" r="0.7" fill="#F8D8A4"/>
<circle cx="160.1" cy="200.9" r="0.6" fill="#D63A55" fill-opacity="0.85"/>
<circle cx="151.4" cy="219.0" r="0.7" fill="#F8D8A4"/>
<circle cx="151.9" cy="219.4" r="0.6" fill="#D63A55" fill-opacity="0.85"/>
<circle cx="154.5" cy="209.2" r="0.7" fill="#F8D8A4"/>
<circle cx="155.0" cy="209.6" r="0.6" fill="#D63A55" fill-opacity="0.85"/>
<circle cx="164.9" cy="211.7" r="0.7" fill="#F8D8A4"/>
<circle cx="165.4" cy="212.1" r="0.6" fill="#D63A55" fill-opacity="0.85"/>
<circle cx="157.4" cy="210.6" r="0.7" fill="#F8D8A4"/>
<circle cx="157.9" cy="211.0" r="0.6" fill="#D63A55" fill-opacity="0.85"/>
<circle cx="161.7" cy="218.6" r="0.7" fill="#F8D8A4"/>
<circle cx="162.2" cy="219.0" r="0.6" fill="#D63A55" fill-opacity="0.85"/>
<circle cx="153.3" cy="211.8" r="0.7" fill="#F8D8A4"/>
<circle cx="153.8" cy="212.2" r="0.6" fill="#D63A55" fill-opacity="0.85"/>
<circle cx="156.0" cy="203.3" r="0.7" fill="#F8D8A4"/>
<circle cx="156.5" cy="203.7" r="0.6" fill="#D63A55" fill-opacity="0.85"/>
<circle cx="165.8" cy="210.2" r="0.7" fill="#F8D8A4"/>
<circle cx="166.3" cy="210.6" r="0.6" fill="#D63A55" fill-opacity="0.85"/>
<circle cx="161.9" cy="217.8" r="0.7" fill="#F8D8A4"/>
<circle cx="162.4" cy="218.2" r="0.6" fill="#D63A55" fill-opacity="0.85"/>
<circle cx="168.5" cy="208.3" r="0.7" fill="#F8D8A4"/>
<circle cx="169.0" cy="208.7" r="0.6" fill="#D63A55" fill-opacity="0.85"/>
<circle cx="162.8" cy="210.2" r="0.7" fill="#F8D8A4"/>
<circle cx="163.3" cy="210.6" r="0.6" fill="#D63A55" fill-opacity="0.85"/>
<circle cx="160.9" cy="215.8" r="0.7" fill="#F8D8A4"/>
<circle cx="161.4" cy="216.2" r="0.6" fill="#D63A55" fill-opacity="0.85"/>
<circle cx="159.8" cy="211.0" r="0.7" fill="#F8D8A4"/>
<circle cx="160.3" cy="211.4" r="0.6" fill="#D63A55" fill-opacity="0.85"/>
<circle cx="160.3" cy="223.3" r="0.7" fill="#F8D8A4"/>
<circle cx="160.8" cy="223.7" r="0.6" fill="#D63A55" fill-opacity="0.85"/>
<circle cx="164.5" cy="221.4" r="0.7" fill="#F8D8A4"/>
<circle cx="165.0" cy="221.8" r="0.6" fill="#D63A55" fill-opacity="0.85"/>
<circle cx="169.0" cy="202.8" r="0.7" fill="#F8D8A4"/>
<circle cx="169.5" cy="203.2" r="0.6" fill="#D63A55" fill-opacity="0.85"/>
<circle cx="161.8" cy="223.4" r="0.7" fill="#F8D8A4"/>
<circle cx="162.3" cy="223.8" r="0.6" fill="#D63A55" fill-opacity="0.85"/>
<circle cx="167.1" cy="199.1" r="0.7" fill="#F8D8A4"/>
<circle cx="167.6" cy="199.5" r="0.6" fill="#D63A55" fill-opacity="0.85"/>
<circle cx="153.6" cy="208.3" r="0.7" fill="#F8D8A4"/>
<circle cx="154.1" cy="208.7" r="0.6" fill="#D63A55" fill-opacity="0.85"/>
<circle cx="242.5" cy="194.1" r="0.7" fill="#F8D8A4"/>
<circle cx="243.0" cy="194.5" r="0.6" fill="#D63A55" fill-opacity="0.85"/>
<circle cx="242.5" cy="205.9" r="0.7" fill="#F8D8A4"/>
<circle cx="243.0" cy="206.3" r="0.6" fill="#D63A55" fill-opacity="0.85"/>
<circle cx="250.5" cy="212.2" r="0.7" fill="#F8D8A4"/>
<circle cx="251.0" cy="212.6" r="0.6" fill="#D63A55" fill-opacity="0.85"/>
<circle cx="243.4" cy="207.2" r="0.7" fill="#F8D8A4"/>
<circle cx="243.9" cy="207.6" r="0.6" fill="#D63A55" fill-opacity="0.85"/>
<circle cx="249.1" cy="191.4" r="0.7" fill="#F8D8A4"/>
<circle cx="249.6" cy="191.8" r="0.6" fill="#D63A55" fill-opacity="0.85"/>
<circle cx="251.7" cy="214.1" r="0.7" fill="#F8D8A4"/>
<circle cx="252.2" cy="214.5" r="0.6" fill="#D63A55" fill-opacity="0.85"/>
<circle cx="244.2" cy="213.7" r="0.7" fill="#F8D8A4"/>
<circle cx="244.7" cy="214.1" r="0.6" fill="#D63A55" fill-opacity="0.85"/>
<circle cx="246.2" cy="200.9" r="0.7" fill="#F8D8A4"/>
<circle cx="246.7" cy="201.3" r="0.6" fill="#D63A55" fill-opacity="0.85"/>
<circle cx="252.9" cy="210.4" r="0.7" fill="#F8D8A4"/>
<circle cx="253.4" cy="210.8" r="0.6" fill="#D63A55" fill-opacity="0.85"/>
<circle cx="243.5" cy="199.3" r="0.7" fill="#F8D8A4"/>
<circle cx="244.0" cy="199.7" r="0.6" fill="#D63A55" fill-opacity="0.85"/>
</g>
<polygon points="208.3,167.6 203.7,163.2 205.3,161.6 198.2,160.7 199.5,167.7 201.1,166.0 205.7,170.4" fill="#fff"/>
<polygon points="218.5,175.3 222.8,170.7 224.5,172.2 225.4,165.2 218.4,166.5 220.1,168.1 215.7,172.7" fill="#fff"/>
<polygon points="200.7,177.6 195.7,182.1 194.2,180.4 192.7,187.3 199.8,186.7 198.2,184.9 203.3,180.4" fill="#fff"/>
<polygon points="215.8,183.7 220.4,187.9 218.8,189.6 225.9,190.3 224.5,183.4 222.9,185.1 218.4,180.9" fill="#fff"/>
<polygon points="178.1,192.6 173.2,188.7 174.7,186.9 167.6,186.6 169.4,193.4 170.8,191.6 175.7,195.6" fill="#fff"/>
<polygon points="195.7,190.2 191.0,194.6 189.5,192.9 188.2,199.9 195.2,199.0 193.6,197.3 198.3,193.0" fill="#fff"/>
<polygon points="200.7,206.8 205.3,211.2 203.8,212.8 210.8,213.7 209.5,206.7 208.0,208.4 203.3,204.0" fill="#fff"/>
<polygon points="178.2,221.9 182.8,217.7 184.3,219.4 185.7,212.4 178.6,213.2 180.2,214.9 175.6,219.1" fill="#fff"/>
<rect x="204.5" y="169.0" width="9.5" height="8.8" fill="none" stroke="#B81828" stroke-width="1.1"/>
<rect x="184.4" y="199.6" width="9.5" height="9.5" fill="none" stroke="#2028D8" stroke-width="1.1"/>
<text x="224.6" y="225.5" font-size="13.2" class="b k">θ=90°</text>
</g>
<rect x="145.6" y="118.0" width="110.0" height="110.0" rx="2.5" fill="none" stroke="#c98f50" stroke-width="0.8"/>
<g clip-path="url(#cpd)">
<rect x="420.2" y="117.4" width="113.2" height="111.7" fill="#F0B26C"/>
<g filter="url(#soft)">
<polygon points="448.1,115.0 468.2,115.0 467.0,130.1 463.2,141.4 458.2,146.4 453.2,141.4 449.4,130.1" fill="#5EDF68" stroke="#43a04a" stroke-width="0.7" stroke-linejoin="round"/>
<polygon points="484.5,115.0 508.4,115.0 505.9,130.1 502.1,142.6 497.1,145.1 492.1,137.6 487.1,127.6" fill="#5EDF68" stroke="#43a04a" stroke-width="0.7" stroke-linejoin="round"/>
<polygon points="418.0,143.4 433.1,140.9 448.1,139.4 454.4,142.6 458.2,146.4 448.1,148.9 453.2,157.7 454.4,169.0 449.4,177.8 445.6,180.3 430.6,174.0 418.0,172.8" fill="#F26EF0" stroke="#ae4fac" stroke-width="0.7" stroke-linejoin="round"/>
<polygon points="505.9,152.7 518.4,148.9 534.8,146.4 534.8,171.5 523.5,171.5 513.4,164.0 508.4,157.7" fill="#F26EF0" stroke="#ae4fac" stroke-width="0.7" stroke-linejoin="round"/>
<polygon points="504.6,152.7 508.4,157.7 513.4,164.0 520.9,171.5 520.9,185.3 517.2,200.4 513.4,215.4 509.6,230.5 486.3,230.5 479.8,209.9 477.5,201.1" fill="#5EDF68" stroke="#43a04a" stroke-width="0.7" stroke-linejoin="round"/>
<polygon points="441.9,202.4 470.2,201.6 465.7,208.9 462.2,224.0 461.2,231.8 446.9,231.8 446.1,224.0 442.9,213.2" fill="#5EDF68" stroke="#43a04a" stroke-width="0.7" stroke-linejoin="round"/>
<polygon points="448.1,148.9 465.7,147.1 504.6,147.1 503.4,153.2 478.3,200.4 448.1,202.9 444.4,196.6 455.2,169.0" fill="#A76ADF"/>
<polygon points="448.1,148.9 458.2,146.4 469.5,150.2 478.3,162.7 477.8,169.0 469.5,166.5 456.9,156.4" fill="#5E9A64" stroke="#436e48" stroke-width="0.7" stroke-linejoin="round"/>
<polygon points="465.7,147.1 504.6,147.1 503.4,153.2 485.8,160.7 479.5,160.7 474.5,155.2" fill="#EC666C" stroke="#a9494d" stroke-width="0.7" stroke-linejoin="round"/>
<polygon points="451.9,152.7 456.9,156.4 469.5,166.5 477.8,169.0 478.3,177.8 474.5,200.4 464.5,181.5 455.2,169.0" fill="#A76ADF" stroke="#784ca0" stroke-width="0.7" stroke-linejoin="round"/>
<polygon points="477.8,162.7 479.5,160.7 485.8,160.7 503.4,153.2 493.3,175.3 478.3,200.4 475.2,200.4 478.3,177.8 477.8,169.0" fill="#ECB2B8" stroke="#a98084" stroke-width="0.7" stroke-linejoin="round"/>
<polygon points="455.2,169.0 464.5,181.5 474.5,200.4 448.1,202.9 444.4,196.6 450.6,180.3" fill="#5C5CE6" stroke="#4242a5" stroke-width="0.7" stroke-linejoin="round"/>
<polygon points="441.6,179.8 449.4,177.8 447.6,184.1 443.1,192.8 444.4,195.3 448.1,202.4 440.6,203.4 433.1,200.9 432.6,194.8 439.6,190.3" fill="#F26EF0" stroke="#ae4fac" stroke-width="0.7" stroke-linejoin="round"/>
<circle cx="428.0" cy="125.0" r="0.7" fill="#D84050"/>
<circle cx="429.3" cy="132.6" r="0.7" fill="#D84050"/>
<circle cx="433.1" cy="130.1" r="0.7" fill="#D84050"/>
<circle cx="459.4" cy="125.0" r="0.7" fill="#D84050"/>
<circle cx="461.9" cy="132.6" r="0.7" fill="#D84050"/>
<circle cx="458.2" cy="137.6" r="0.7" fill="#D84050"/>
<circle cx="480.8" cy="127.6" r="0.7" fill="#D84050"/>
<circle cx="483.3" cy="135.1" r="0.7" fill="#D84050"/>
<circle cx="470.7" cy="212.9" r="0.7" fill="#D84050"/>
<circle cx="468.2" cy="220.5" r="0.7" fill="#D84050"/>
<circle cx="472.0" cy="225.5" r="0.7" fill="#D84050"/>
<circle cx="477.0" cy="210.4" r="0.7" fill="#D84050"/>
<circle cx="462.2" cy="128.1" r="0.7" fill="#F8D8A4"/>
<circle cx="462.7" cy="128.5" r="0.6" fill="#E070B0" fill-opacity="0.85"/>
<circle cx="459.4" cy="127.6" r="0.7" fill="#F8D8A4"/>
<circle cx="459.9" cy="128.0" r="0.6" fill="#E070B0" fill-opacity="0.85"/>
<circle cx="464.0" cy="120.1" r="0.7" fill="#F8D8A4"/>
<circle cx="464.5" cy="120.5" r="0.6" fill="#E070B0" fill-opacity="0.85"/>
<circle cx="462.5" cy="130.7" r="0.7" fill="#F8D8A4"/>
<circle cx="463.0" cy="131.1" r="0.6" fill="#E070B0" fill-opacity="0.85"/>
<circle cx="457.8" cy="127.9" r="0.7" fill="#F8D8A4"/>
<circle cx="458.3" cy="128.3" r="0.6" fill="#E070B0" fill-opacity="0.85"/>
<circle cx="463.2" cy="132.5" r="0.7" fill="#F8D8A4"/>
<circle cx="463.7" cy="132.9" r="0.6" fill="#E070B0" fill-opacity="0.85"/>
<circle cx="458.2" cy="144.4" r="0.7" fill="#F8D8A4"/>
<circle cx="458.7" cy="144.8" r="0.6" fill="#E070B0" fill-opacity="0.85"/>
<circle cx="464.6" cy="144.0" r="0.7" fill="#F8D8A4"/>
<circle cx="465.1" cy="144.4" r="0.6" fill="#E070B0" fill-opacity="0.85"/>
<circle cx="458.6" cy="126.3" r="0.7" fill="#F8D8A4"/>
<circle cx="459.1" cy="126.7" r="0.6" fill="#E070B0" fill-opacity="0.85"/>
<circle cx="458.0" cy="139.2" r="0.7" fill="#F8D8A4"/>
<circle cx="458.5" cy="139.6" r="0.6" fill="#E070B0" fill-opacity="0.85"/>
<circle cx="460.1" cy="122.9" r="0.7" fill="#F8D8A4"/>
<circle cx="460.6" cy="123.3" r="0.6" fill="#E070B0" fill-opacity="0.85"/>
<circle cx="461.4" cy="142.5" r="0.7" fill="#F8D8A4"/>
<circle cx="461.9" cy="142.9" r="0.6" fill="#E070B0" fill-opacity="0.85"/>
<circle cx="464.9" cy="126.1" r="0.7" fill="#F8D8A4"/>
<circle cx="465.4" cy="126.5" r="0.6" fill="#E070B0" fill-opacity="0.85"/>
<circle cx="459.0" cy="142.7" r="0.7" fill="#F8D8A4"/>
<circle cx="459.5" cy="143.1" r="0.6" fill="#E070B0" fill-opacity="0.85"/>
<circle cx="473.6" cy="219.9" r="0.7" fill="#F8D8A4"/>
<circle cx="474.1" cy="220.3" r="0.6" fill="#D63A55" fill-opacity="0.85"/>
<circle cx="467.6" cy="206.2" r="0.7" fill="#F8D8A4"/>
<circle cx="468.1" cy="206.6" r="0.6" fill="#D63A55" fill-opacity="0.85"/>
<circle cx="475.1" cy="214.1" r="0.7" fill="#F8D8A4"/>
<circle cx="475.6" cy="214.5" r="0.6" fill="#D63A55" fill-opacity="0.85"/>
<circle cx="467.4" cy="225.0" r="0.7" fill="#F8D8A4"/>
<circle cx="467.9" cy="225.4" r="0.6" fill="#D63A55" fill-opacity="0.85"/>
<circle cx="474.4" cy="222.1" r="0.7" fill="#F8D8A4"/>
<circle cx="474.9" cy="222.5" r="0.6" fill="#D63A55" fill-opacity="0.85"/>
<circle cx="467.5" cy="223.3" r="0.7" fill="#F8D8A4"/>
<circle cx="468.0" cy="223.7" r="0.6" fill="#D63A55" fill-opacity="0.85"/>
<circle cx="467.3" cy="223.4" r="0.7" fill="#F8D8A4"/>
<circle cx="467.8" cy="223.8" r="0.6" fill="#D63A55" fill-opacity="0.85"/>
<circle cx="472.2" cy="212.2" r="0.7" fill="#F8D8A4"/>
<circle cx="472.7" cy="212.6" r="0.6" fill="#D63A55" fill-opacity="0.85"/>
<circle cx="473.4" cy="224.8" r="0.7" fill="#F8D8A4"/>
<circle cx="473.9" cy="225.2" r="0.6" fill="#D63A55" fill-opacity="0.85"/>
<circle cx="469.8" cy="207.8" r="0.7" fill="#F8D8A4"/>
<circle cx="470.3" cy="208.2" r="0.6" fill="#D63A55" fill-opacity="0.85"/>
<circle cx="473.1" cy="210.1" r="0.7" fill="#F8D8A4"/>
<circle cx="473.6" cy="210.5" r="0.6" fill="#D63A55" fill-opacity="0.85"/>
<circle cx="467.8" cy="208.4" r="0.7" fill="#F8D8A4"/>
<circle cx="468.3" cy="208.8" r="0.6" fill="#D63A55" fill-opacity="0.85"/>
<circle cx="467.1" cy="209.3" r="0.7" fill="#F8D8A4"/>
<circle cx="467.6" cy="209.7" r="0.6" fill="#D63A55" fill-opacity="0.85"/>
<circle cx="470.4" cy="211.5" r="0.7" fill="#F8D8A4"/>
<circle cx="470.9" cy="211.9" r="0.6" fill="#D63A55" fill-opacity="0.85"/>
<circle cx="448.3" cy="165.6" r="0.7" fill="#F8D8A4"/>
<circle cx="448.8" cy="166.0" r="0.6" fill="#D63A55" fill-opacity="0.85"/>
<circle cx="446.4" cy="163.4" r="0.7" fill="#F8D8A4"/>
<circle cx="446.9" cy="163.8" r="0.6" fill="#D63A55" fill-opacity="0.85"/>
<circle cx="445.2" cy="160.2" r="0.7" fill="#F8D8A4"/>
<circle cx="445.7" cy="160.6" r="0.6" fill="#D63A55" fill-opacity="0.85"/>
<circle cx="444.5" cy="160.1" r="0.7" fill="#F8D8A4"/>
<circle cx="445.0" cy="160.5" r="0.6" fill="#D63A55" fill-opacity="0.85"/>
<circle cx="448.1" cy="170.9" r="0.7" fill="#F8D8A4"/>
<circle cx="448.6" cy="171.3" r="0.6" fill="#D63A55" fill-opacity="0.85"/>
</g>
<polygon points="472.0,156.3 466.7,151.7 468.2,150.0 461.2,149.4 462.7,156.3 464.2,154.6 469.5,159.1" fill="#fff"/>
<polygon points="482.1,159.0 486.4,154.8 488.0,156.4 489.1,149.4 482.1,150.5 483.7,152.1 479.4,156.3" fill="#fff"/>
<polygon points="472.4,172.7 468.3,176.9 466.7,175.3 465.7,182.3 472.7,181.1 471.0,179.5 475.1,175.3" fill="#fff"/>
<polygon points="479.4,173.6 484.1,178.2 482.5,179.8 489.6,180.8 488.4,173.8 486.8,175.5 482.1,170.9" fill="#fff"/>
<polygon points="458.1,188.9 453.6,193.1 452.0,191.4 450.6,198.4 457.7,197.6 456.1,195.9 460.7,191.7" fill="#fff"/>
<polygon points="444.3,197.6 439.2,193.6 440.6,191.8 433.6,191.6 435.4,198.4 436.9,196.6 441.9,200.6" fill="#fff"/>
<polygon points="430.6,220.6 435.2,216.2 436.8,217.9 438.1,210.9 431.1,211.8 432.6,213.4 428.0,217.8" fill="#fff"/>
<polygon points="445.6,213.1 450.2,217.4 448.6,219.1 455.7,220.0 454.4,213.0 452.8,214.7 448.2,210.3" fill="#fff"/>
<rect x="474.5" y="159.7" width="10.0" height="9.3" fill="none" stroke="#B81828" stroke-width="1.1"/>
<rect x="438.1" y="197.9" width="9.5" height="9.5" fill="none" stroke="#2028D8" stroke-width="1.1"/>
<text x="493.3" y="223.7" font-size="13.2" class="b k">θ=180°</text>
</g>
<rect x="421.2" y="118.4" width="111.2" height="109.7" rx="2.5" fill="none" stroke="#c98f50" stroke-width="0.8"/>
<rect x="42.2" y="247.7" width="220.0" height="176.9" fill="none" stroke="#000" stroke-width="1.5"/>
<line x1="42.2" y1="408.9" x2="45.7" y2="408.9" stroke="#000" stroke-width="1.2"/>
<text x="38.8" y="413.2" font-size="11.5" class="b k" text-anchor="end">0</text>
<line x1="42.2" y1="376.7" x2="45.7" y2="376.7" stroke="#000" stroke-width="1.2"/>
<text x="38.8" y="381.0" font-size="11.5" class="b k" text-anchor="end">10</text>
<line x1="42.2" y1="344.4" x2="45.7" y2="344.4" stroke="#000" stroke-width="1.2"/>
<text x="38.8" y="348.7" font-size="11.5" class="b k" text-anchor="end">20</text>
<line x1="42.2" y1="312.2" x2="45.7" y2="312.2" stroke="#000" stroke-width="1.2"/>
<text x="38.8" y="316.5" font-size="11.5" class="b k" text-anchor="end">30</text>
<line x1="42.2" y1="279.9" x2="45.7" y2="279.9" stroke="#000" stroke-width="1.2"/>
<text x="38.8" y="284.2" font-size="11.5" class="b k" text-anchor="end">40</text>
<line x1="42.2" y1="247.7" x2="45.7" y2="247.7" stroke="#000" stroke-width="1.2"/>
<text x="38.8" y="252.0" font-size="11.5" class="b k" text-anchor="end">50</text>
<line x1="42.2" y1="392.8" x2="44.2" y2="392.8" stroke="#000" stroke-width="1.1"/>
<line x1="42.2" y1="360.5" x2="44.2" y2="360.5" stroke="#000" stroke-width="1.1"/>
<line x1="42.2" y1="328.3" x2="44.2" y2="328.3" stroke="#000" stroke-width="1.1"/>
<line x1="42.2" y1="296.1" x2="44.2" y2="296.1" stroke="#000" stroke-width="1.1"/>
<line x1="42.2" y1="263.8" x2="44.2" y2="263.8" stroke="#000" stroke-width="1.1"/>
<line x1="69.1" y1="424.6" x2="69.1" y2="421.1" stroke="#000" stroke-width="1.2"/>
<text x="69.1" y="438" font-size="11" class="b k" text-anchor="middle">R1-</text>
<line x1="124.5" y1="424.6" x2="124.5" y2="421.1" stroke="#000" stroke-width="1.2"/>
<text x="124.5" y="438" font-size="11" class="b k" text-anchor="middle">R2-</text>
<line x1="179.7" y1="424.6" x2="179.7" y2="421.1" stroke="#000" stroke-width="1.2"/>
<text x="179.7" y="438" font-size="11" class="b k" text-anchor="middle">R3-</text>
<line x1="234.5" y1="424.6" x2="234.5" y2="421.1" stroke="#000" stroke-width="1.2"/>
<text x="234.5" y="438" font-size="11" class="b k" text-anchor="middle">R4-</text>
<text x="151.8" y="454.3" font-size="12.3" class="b k" text-anchor="middle">Domain types</text>
<text transform="translate(22.6,337.3) rotate(-90)" font-size="12.6" class="b k" text-anchor="middle">4R- domain percentage (%)</text>
<polyline points="69.1,380.5 124.5,323.5 179.7,277.4 234.5,330.6" fill="none" stroke="#8B008B" stroke-width="2" stroke-linejoin="miter"/>
<polyline points="69.1,312.2 124.5,314.1 179.7,342.5 234.5,343.8" fill="none" stroke="#1868F6" stroke-width="2" stroke-linejoin="miter"/>
<polyline points="69.1,309.6 124.5,338.6 179.7,374.1 234.5,290.9" fill="none" stroke="#F60A5E" stroke-width="2" stroke-linejoin="miter"/>
<polyline points="69.1,305.7 124.5,302.5 179.7,361.2 234.5,342.8" fill="none" stroke="#08ECF8" stroke-width="2" stroke-linejoin="miter"/>
<polygon points="69.1,377.3 65.9,382.7 72.3,382.7" fill="#8B008B"/>
<polygon points="124.5,320.3 121.3,325.7 127.7,325.7" fill="#8B008B"/>
<polygon points="179.7,274.2 176.5,279.6 182.9,279.6" fill="#8B008B"/>
<polygon points="234.5,327.4 231.3,332.8 237.7,332.8" fill="#8B008B"/>
<polygon points="69.1,309.2 66.2,314.2 72.0,314.2" fill="#fff" stroke="#1868F6" stroke-width="0.7"/>
<polygon points="124.5,311.1 121.6,316.1 127.4,316.1" fill="#fff" stroke="#1868F6" stroke-width="0.7"/>
<polygon points="179.7,339.5 176.8,344.5 182.6,344.5" fill="#fff" stroke="#1868F6" stroke-width="0.7"/>
<polygon points="234.5,340.8 231.6,345.8 237.4,345.8" fill="#fff" stroke="#1868F6" stroke-width="0.7"/>
<polygon points="69.1,307.0 66.6,311.4 71.6,311.4" fill="#f8a8c8" stroke="#F60A5E" stroke-width="0.5"/>
<polygon points="124.5,336.0 122.0,340.4 127.0,340.4" fill="#f8a8c8" stroke="#F60A5E" stroke-width="0.5"/>
<polygon points="179.7,371.5 177.2,375.9 182.2,375.9" fill="#f8a8c8" stroke="#F60A5E" stroke-width="0.5"/>
<polygon points="234.5,288.3 232.0,292.7 237.0,292.7" fill="#f8a8c8" stroke="#F60A5E" stroke-width="0.5"/>
<polygon points="69.1,302.5 65.9,307.9 72.3,307.9" fill="#08ECF8"/>
<rect x="67.1" y="306.0" width="4" height="1.6" fill="#fff"/>
<polygon points="124.5,299.3 121.3,304.7 127.7,304.7" fill="#08ECF8"/>
<rect x="122.5" y="302.8" width="4" height="1.6" fill="#fff"/>
<polygon points="179.7,358.0 176.5,363.4 182.9,363.4" fill="#08ECF8"/>
<rect x="177.7" y="361.5" width="4" height="1.6" fill="#fff"/>
<polygon points="234.5,339.6 231.3,345.0 237.7,345.0" fill="#08ECF8"/>
<rect x="232.5" y="343.1" width="4" height="1.6" fill="#fff"/>
<line x1="208" y1="372.6" x2="234.3" y2="372.6" stroke="#8B008B" stroke-width="2"/>
<polygon points="221.0,369.4 217.8,374.8 224.2,374.8" fill="#8B008B"/>
<text x="235.6" y="376.4" font-size="11.4" class="b k">θ=0°</text>
<line x1="208" y1="387.6" x2="234.3" y2="387.6" stroke="#1868F6" stroke-width="2"/>
<polygon points="221.0,384.6 218.1,389.6 223.9,389.6" fill="#fff" stroke="#1868F6" stroke-width="0.7"/>
<text x="235.6" y="391.4" font-size="11.4" class="b k">45°</text>
<line x1="208" y1="401.9" x2="234.3" y2="401.9" stroke="#F60A5E" stroke-width="2"/>
<polygon points="221.0,399.3 218.5,403.7 223.5,403.7" fill="#f8a8c8" stroke="#F60A5E" stroke-width="0.5"/>
<text x="235.6" y="405.7" font-size="11.4" class="b k">90°</text>
<line x1="208" y1="417.0" x2="234.3" y2="417.0" stroke="#08ECF8" stroke-width="2"/>
<polygon points="221.0,413.8 217.8,419.2 224.2,419.2" fill="#08ECF8"/>
<rect x="219.0" y="417.3" width="4" height="1.6" fill="#fff"/>
<text x="235.6" y="420.8" font-size="11.4" class="b k">180°</text>
<text transform="translate(304.2,255.3) scale(0.885,1)" font-size="14.8">Table1 The 4R domain fraction</text>
<text transform="translate(469.3,255.3) scale(0.9,1)" font-size="14.8" font-style="italic">f</text>
<text transform="translate(482.5,255.3) scale(0.835,1)" font-size="14.8">(%)</text>
<line x1="286.6" y1="262.3" x2="531.5" y2="262.3" stroke="#000" stroke-width="1.4"/>
<line x1="286.6" y1="288.4" x2="531.5" y2="288.4" stroke="#000" stroke-width="1.3"/>
<line x1="286.6" y1="424.0" x2="531.5" y2="424.0" stroke="#000" stroke-width="1.3"/>
<text x="307.4" y="279.2" font-size="13">θ</text><text x="323.4" y="279" font-size="13" letter-spacing="1">(°)</text>
<text x="385.2" y="279" font-size="14.5" font-style="italic">f<tspan font-style="normal" font-size="9" dy="1.8" word-spacing="1.6">R1- + R3-</tspan></text>
<text x="469.2" y="279" font-size="14.5" font-style="italic">f<tspan font-style="normal" font-size="9" dy="1.8" word-spacing="1.6">R2- + R4-</tspan></text>
<text x="328" y="305.3" font-size="14" text-anchor="middle">0</text>
<text x="409.3" y="305.3" font-size="14" text-anchor="middle">49.38</text>
<text x="492" y="305.3" font-size="14" text-anchor="middle">50.68</text>
<text x="328" y="339.8" font-size="14" text-anchor="middle">45</text>
<text x="409.3" y="339.8" font-size="14" text-anchor="middle">50.48</text>
<text x="492" y="339.8" font-size="14" text-anchor="middle">49.52</text>
<text x="328" y="374.2" font-size="14" text-anchor="middle">90</text>
<text x="409.3" y="374.2" font-size="14" text-anchor="middle">41.62</text>
<text x="492" y="374.2" font-size="14" text-anchor="middle">58.38</text>
<text x="328" y="408.3" font-size="14" text-anchor="middle">180</text>
<text x="409.3" y="408.3" font-size="14" text-anchor="middle">46.55</text>
<text x="492" y="408.3" font-size="14" text-anchor="middle">53.45</text>
</svg></body></html>
